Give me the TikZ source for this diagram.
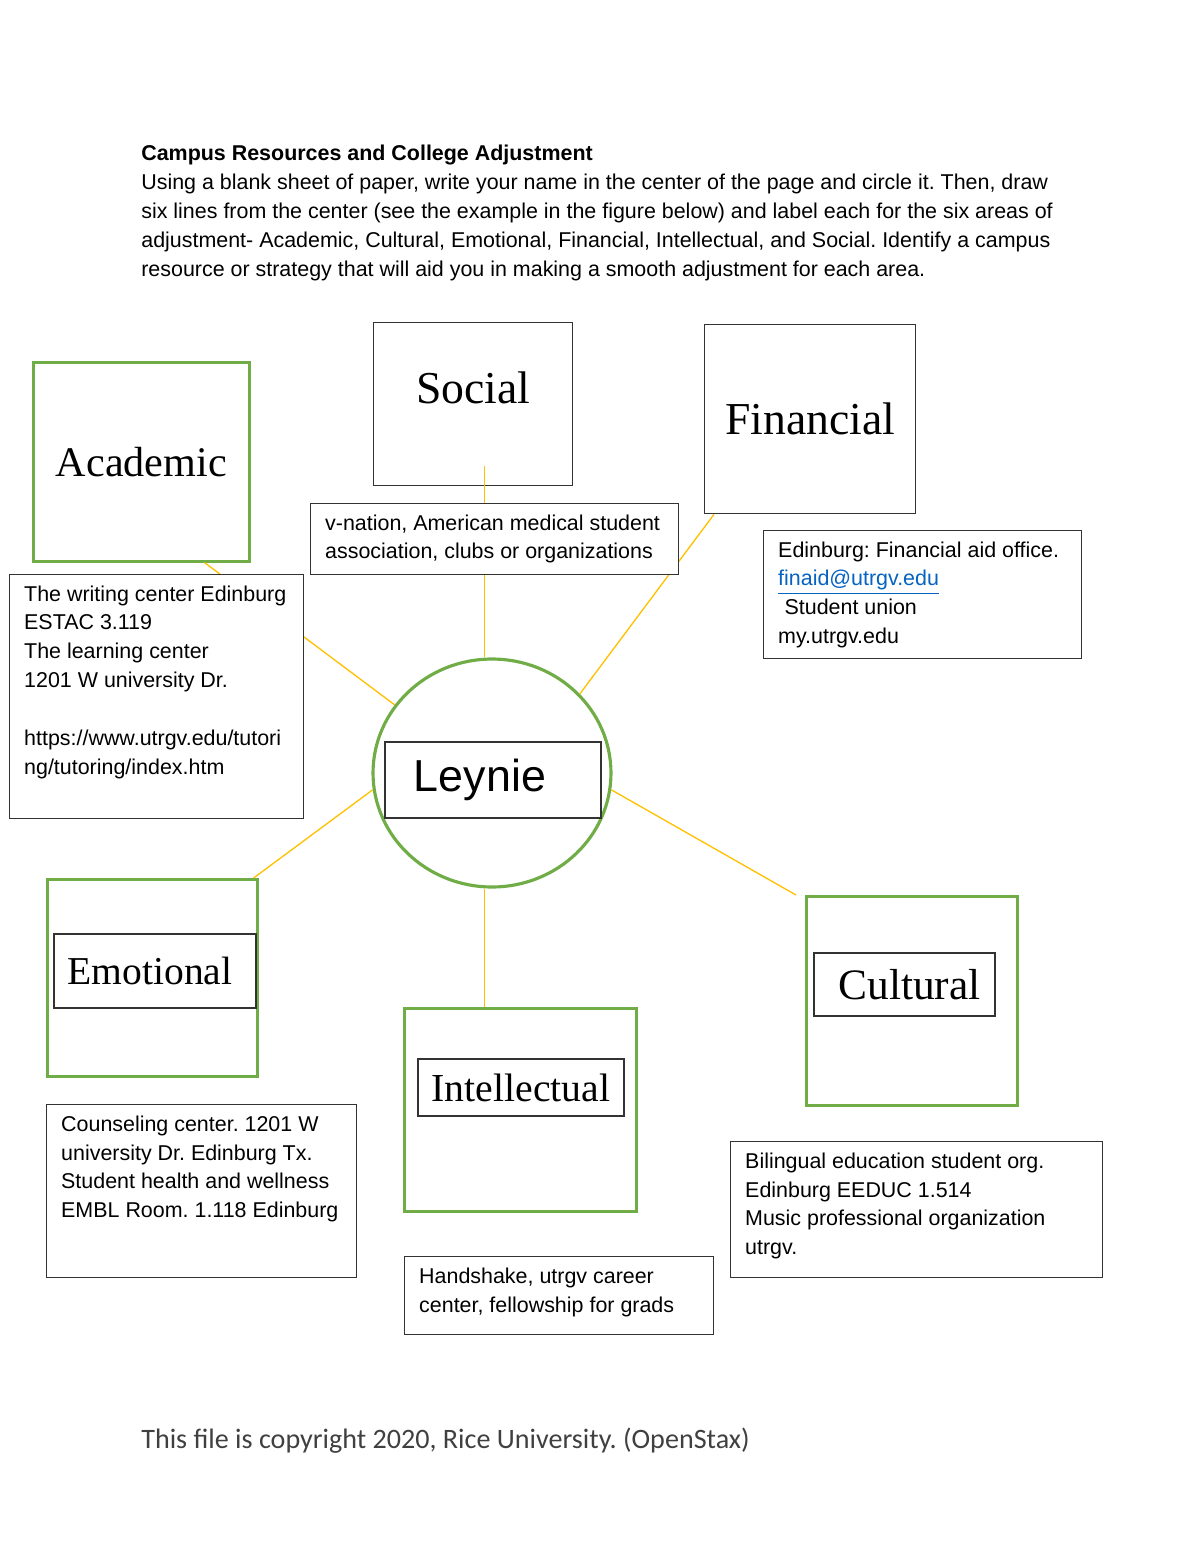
\documentclass[tikz,border=0pt]{standalone}
\usepackage{fontspec}
\setmainfont{Liberation Sans}
\newfontfamily\serifface{Liberation Serif}
\newfontfamily\footface{Carlito}
\usepackage{tikz}
\usetikzlibrary{calc,shapes.geometric}
\definecolor{AreaGreen}{RGB}{112,173,71}
\definecolor{SpokeYellow}{RGB}{255,192,0}
\definecolor{LinkBlue}{RGB}{5,99,193}
\definecolor{FootGray}{RGB}{64,64,64}
\newcommand{\infotext}[3]{\parbox[c][\dimexpr#2-0.24cm\relax][t]{\dimexpr#1-0.58cm\relax}{\raggedright\strut#3}}
\frenchspacing

\begin{document}
\begin{tikzpicture}[
    x=0.02cm, y=-0.02cm,
    area/.style={rectangle, draw=black!80, line width=0.8pt, inner sep=0pt, anchor=north west,
        font=\serifface\fontsize{24}{28}\selectfont},
    greenarea/.style={area, draw=AreaGreen, line width=1.5pt},
    namebox/.style={rectangle, draw=black!80, line width=0.8pt, inner sep=0pt,
        font=\serifface\fontsize{24}{28}\selectfont},
    info/.style={rectangle, draw=black!80, line width=0.8pt, fill=white, anchor=north west,
        inner xsep=0.29cm, inner ysep=0.12cm, font=\fontsize{12.2}{16.5}\selectfont},
    spoke/.style={draw=SpokeYellow, line width=0.75pt},
]
\useasboundingbox (0,0) rectangle (1200,1553);

% task text
\node[anchor=north west, inner sep=0pt, align=left, font=\fontsize{12.2}{16.5}\selectfont] (task) at (141,140)
    {\strut\textbf{Campus Resources and College Adjustment}\\
    Using a blank sheet of paper, write your name in the center of the page and circle it. Then, draw\\
    six lines from the center (see the example in the figure below) and label each for the six areas of\\
    adjustment- Academic, Cultural, Emotional, Financial, Intellectual, and Social. Identify a campus\\
    resource or strategy that will aid you in making a smooth adjustment for each area.};

% name in the middle
\node[ellipse, draw=AreaGreen, line width=1.8pt, minimum width=4.76cm, minimum height=4.56cm, inner sep=0pt] (me) at (492,773) {};
\node[namebox, font=\fontsize{25.5}{30}\selectfont, minimum width=4.32cm, minimum height=1.52cm] (name) at (493,780) {Leynie\rule{0.52cm}{0pt}};

% the six areas
\node[greenarea, minimum width=4.32cm, minimum height=3.98cm] (aca) at (32,361) {Academic};
\node[area, minimum width=3.98cm, minimum height=3.26cm, font=\serifface\fontsize{26}{30}\selectfont] (soc) at (373,322) {\raisebox{0.66cm}{Social}};
\node[area, minimum width=4.22cm, minimum height=3.78cm, font=\serifface\fontsize{26}{30}\selectfont] (fin) at (704,324) {Financial};
\node[greenarea, minimum width=4.2cm, minimum height=3.94cm] (emo) at (46,878) {};
\node[greenarea, minimum width=4.64cm, minimum height=4.06cm] (intl) at (403,1007) {};
\node[greenarea, minimum width=4.22cm, minimum height=4.18cm] (cul) at (805,895) {};
\node[namebox, font=\serifface\fontsize{22.5}{26}\selectfont, minimum width=4.04cm, minimum height=1.48cm] (emoname) at (155,971) {Emotional\rule{0.2cm}{0pt}};
\node[namebox, font=\serifface\fontsize{22.6}{26}\selectfont, minimum width=4.12cm, minimum height=1.14cm] (intlname) at (521,1087.5) {Intellectual};
\node[namebox, font=\serifface\fontsize{24.7}{28}\selectfont, minimum width=3.62cm, minimum height=1.26cm] (culname) at (904.5,984.5) {\rule{0.2cm}{0pt}Cultural};

% spokes
\draw[spoke] ($(soc.south)+(11,-20)$) coordinate (socfoot) -- (socfoot |- me.north);
\draw[spoke] (socfoot |- me.south) -- (socfoot |- intl.north);
\draw[spoke] ($(aca.south east)+(-46,0)$) -- (me.145);
\draw[spoke] ($(fin.south west)+(10,0)$) -- (me.42);
\draw[spoke] ($(emo.north east)+(-5,0)$) -- (me.188);
\draw[spoke] (me.-8) -- ($(cul.north west)+(-9,0)$);

% resources
\node[info] (acainfo) at (9,574) {\infotext{5.88cm}{4.88cm}{The writing center Edinburg\\ ESTAC 3.119\\ The learning center\\ 1201 W university Dr.\\ ~\\ https://www.utrgv.edu/tutori\\ ng/tutoring/index.htm}};
\node[info] (socinfo) at (310,503) {\infotext{7.36cm}{1.42cm}{v-nation, American medical student\\ association, clubs or organizations}};
\node[info] (fininfo) at (763,530) {\infotext{6.36cm}{2.56cm}{Edinburg: Financial aid office.\\ \textcolor{LinkBlue}{\underline{finaid@utrgv.edu}}\\ \hspace*{0.3em}Student union\\ my.utrgv.edu}};
\node[info] (emoinfo) at (46,1104) {\infotext{6.2cm}{3.46cm}{Counseling center. 1201 W\\ university Dr. Edinburg Tx.\\ Student health and wellness\\ EMBL Room. 1.118 Edinburg}};
\node[info] (intlinfo) at (404,1256) {\infotext{6.18cm}{1.56cm}{Handshake, utrgv career\\ center, fellowship for grads}};
\node[info] (culinfo) at (730,1141) {\infotext{7.44cm}{2.72cm}{Bilingual education student org.\\ Edinburg EEDUC 1.514\\ Music professional organization\\ utrgv.}};

% footer
\node[anchor=west, inner sep=0pt, font=\footface\fontsize{16}{19}\selectfont, text=FootGray] (copy) at (141,1441) {This file is copyright 2020, Rice University. (OpenStax)};
\end{tikzpicture}
\end{document}
